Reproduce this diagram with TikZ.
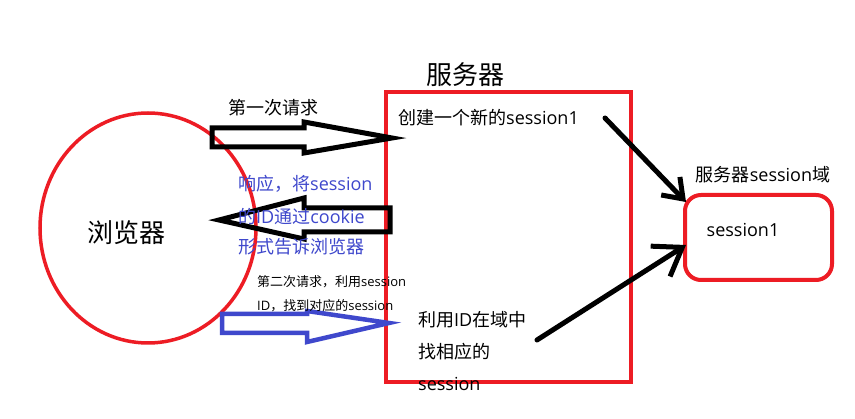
\documentclass[tikz,border=0pt]{standalone}
\usepackage{fontspec}
\setmainfont{Noto Sans CJK SC}
\newfontfamily\lat{Open Sans}
\usetikzlibrary{shapes.geometric,arrows.meta}
\definecolor{pred}{HTML}{ED1C24}
\definecolor{pblue}{HTML}{3F48CC}
\newcommand{\lt}[1]{{\lat #1}}
\tikzset{
  txt/.style={anchor=west,inner sep=0pt,font=\fontsize{18}{20}\selectfont},
  bigtxt/.style={inner sep=0pt,font=\fontsize{26}{28}\selectfont},
  smalltxt/.style={anchor=west,inner sep=0pt,font=\fontsize{13}{15}\selectfont},
  redshape/.style={draw=pred,line width=4pt},
  blockarrow/.style={line width=5pt,line join=miter},
  thinarrow/.style={line width=5pt,line cap=round},
}
\begin{document}
\begin{tikzpicture}[x=1pt,y=-1pt]
\useasboundingbox[fill=white] (0,0) rectangle (855,419);
% browser
\node[ellipse,draw=pred,line width=3.5pt,minimum width=216pt,minimum height=230pt] (browser) at (148,228) {};
\node[bigtxt] (browsertxt) at (126,233) {浏览器};
% server
\node[redshape,minimum width=245pt,minimum height=290pt] (server) at (508.5,237) {};
\node[bigtxt] (servertxt) at (465,75) {服务器};
\node[txt] (create) at (398,118) {创建一个新的\lt{session1}};
\node[txt] (find1) at (418,320) {利用\lt{ID}在域中};
\node[txt] (find2) at (418,352) {找相应的};
\node[txt] (find3) at (418,384) {\lt{session}};
% session domain
\node[redshape,rounded corners=16pt,minimum width=147pt,minimum height=85pt] (domain) at (758.5,237.5) {};
\node[txt,anchor=center] (domaintxt) at (743,230) {\lt{session1}};
\node[txt,anchor=center] (domaintitle) at (763,175) {服务器\lt{session}域};
% block arrows
\draw[blockarrow] (212,128) -- (304,128) -- (304,122) -- (392,138) -- (304,153) -- (304,147) -- (212,147) -- cycle;
\node[txt] (req1) at (228,108) {第一次请求};
\draw[blockarrow] (390,208) -- (304,208) -- (304,198) -- (219,220) -- (304,239) -- (304,232) -- (390,232) -- cycle;
\node[txt,text=pblue] (resp1) at (238,184) {响应，将\lt{session}};
\node[txt,text=pblue] (resp2) at (238,217) {的\lt{ID}通过\lt{cookie}};
\node[txt,text=pblue] (resp3) at (238,247) {形式告诉浏览器};
\draw[blockarrow,draw=pblue,line width=4.5pt] (222,314) -- (307,314) -- (307,311) -- (389,323) -- (307,342) -- (307,333) -- (222,333) -- cycle;
\node[smalltxt] (req2a) at (257,282) {第二次请求，利用\lt{session}};
\node[smalltxt] (req2b) at (257,306) {\lt{ID}，找到对应的\lt{session}};
% thin arrows
\coordinate (a1s) at (605,118);
\coordinate (a1e) at (686,202);
\coordinate (a2s) at (537,340);
\coordinate (a2e) at (686,245);
\draw[thinarrow,-{Straight Barb[length=18pt,width=26pt,line width=5pt]}] (a1s) -- (a1e);
\draw[thinarrow,-{Straight Barb[length=26pt,width=36pt,line width=5pt]}] (a2s) -- (a2e);
\end{tikzpicture}
\end{document}
